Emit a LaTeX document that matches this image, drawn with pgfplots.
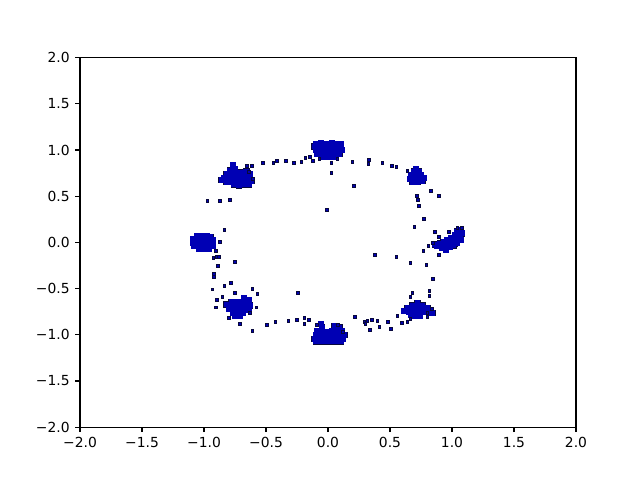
\documentclass[border=0pt]{standalone}
\usepackage{pgfplots}
\usepackage{pgfplotstable}
\pgfplotsset{compat=1.18}
\usepackage{fontspec}
\setmainfont{DejaVu Sans}
\definecolor{dotedge}{RGB}{8,8,60}
\definecolor{dotfill}{RGB}{0,0,180}

\pgfplotstableread{
x y
-0.10 1.07
-0.06 1.08
-0.02 1.07
0.03 1.08
0.07 1.07
0.10 1.07
-0.11 1.04
-0.08 1.04
-0.05 1.04
-0.02 1.04
0.01 1.04
0.04 1.04
0.07 1.04
0.10 1.04
-0.10 1.00
-0.07 1.00
-0.04 1.00
-0.01 1.00
0.02 1.00
0.05 1.00
0.08 1.00
0.11 1.00
-0.09 0.96
-0.06 0.96
-0.03 0.96
0.00 0.96
0.03 0.96
0.06 0.96
0.09 0.96
-0.06 0.93
-0.03 0.93
0.00 0.93
0.03 0.93
0.06 0.93
-1.06 0.07
-1.02 0.07
-0.98 0.07
-0.95 0.06
-1.09 0.04
-1.05 0.04
-1.01 0.04
-0.97 0.04
-0.93 0.03
-1.09 0.00
-1.05 0.00
-1.01 0.00
-0.97 0.00
-0.93 0.00
-1.08 -0.04
-1.04 -0.04
-1.00 -0.04
-0.96 -0.04
-0.93 -0.04
-1.04 -0.07
-1.00 -0.07
-0.96 -0.07
1.07 0.14
1.04 0.12
1.08 0.10
1.02 0.08
1.06 0.07
0.99 0.05
1.03 0.04
1.07 0.03
0.96 0.03
1.00 0.01
1.04 0.00
0.93 0.01
0.97 -0.01
1.01 -0.03
0.90 -0.01
0.94 -0.03
0.98 -0.05
0.88 -0.04
0.92 -0.06
0.95 -0.08
1.05 0.05
1.02 -0.01
0.86 -0.02
-0.77 0.84
-0.75 0.80
-0.79 0.78
-0.82 0.74
-0.78 0.74
-0.74 0.75
-0.70 0.76
-0.66 0.77
-0.63 0.74
-0.84 0.70
-0.80 0.70
-0.76 0.70
-0.72 0.70
-0.68 0.71
-0.64 0.70
-0.82 0.66
-0.78 0.66
-0.74 0.66
-0.70 0.66
-0.66 0.66
-0.62 0.67
-0.76 0.63
-0.72 0.62
-0.68 0.63
-0.64 0.63
-0.86 0.68
0.71 0.80
0.69 0.77
0.73 0.77
0.67 0.73
0.71 0.73
0.75 0.73
0.66 0.69
0.70 0.69
0.74 0.69
0.77 0.70
0.68 0.66
0.72 0.66
0.76 0.67
-0.68 -0.60
-0.64 -0.62
-0.78 -0.64
-0.74 -0.64
-0.70 -0.64
-0.66 -0.65
-0.82 -0.67
-0.78 -0.68
-0.74 -0.68
-0.70 -0.68
-0.66 -0.69
-0.63 -0.68
-0.80 -0.72
-0.76 -0.72
-0.72 -0.72
-0.68 -0.72
-0.64 -0.73
-0.77 -0.76
-0.73 -0.76
-0.69 -0.76
-0.75 -0.79
-0.71 -0.79
-0.06 -0.88
-0.05 -0.92
0.05 -0.90
0.09 -0.92
-0.09 -0.96
-0.05 -0.96
-0.01 -0.97
0.03 -0.96
0.07 -0.96
0.11 -0.96
-0.10 -1.00
-0.06 -1.00
-0.02 -1.00
0.02 -1.00
0.06 -1.00
0.10 -1.00
0.13 -1.00
-0.11 -1.04
-0.07 -1.04
-0.03 -1.04
0.01 -1.04
0.05 -1.04
0.09 -1.04
0.12 -1.04
-0.10 -1.07
-0.06 -1.07
-0.02 -1.07
0.02 -1.07
0.06 -1.07
0.10 -1.07
0.72 -0.65
0.68 -0.68
0.72 -0.68
0.76 -0.68
0.64 -0.71
0.68 -0.72
0.72 -0.72
0.76 -0.72
0.80 -0.71
0.61 -0.74
0.65 -0.75
0.69 -0.76
0.73 -0.76
0.77 -0.75
0.81 -0.75
0.84 -0.76
0.70 -0.79
0.74 -0.79
0.67 -0.78
}\clusters

\pgfplotstableread{
x y
-0.651 0.832
-0.615 0.832
-0.635 0.764
-0.607 0.689
-0.522 0.862
-0.441 0.862
-0.414 0.883
-0.339 0.883
-0.274 0.862
-0.215 0.872
-0.183 0.916
-0.145 0.926
-0.123 0.883
-0.070 0.905
0.027 0.862
0.075 0.905
0.027 0.754
0.196 0.872
0.333 0.894
0.325 0.851
0.438 0.862
0.514 0.829
0.551 0.818
0.640 0.775
0.212 0.613
-0.006 0.354
0.720 0.505
0.728 0.459
0.736 0.397
0.774 0.256
0.833 0.559
0.890 0.505
0.696 0.170
0.865 0.116
0.890 0.062
0.978 0.116
1.043 0.159
1.083 0.159
0.849 -0.003
0.809 -0.040
0.769 -0.090
0.890 -0.133
0.551 -0.155
0.664 -0.219
0.793 -0.241
0.849 -0.392
0.817 -0.522
0.817 -0.576
0.680 -0.544
0.664 -0.587
0.559 -0.792
0.801 -0.803
0.379 -0.130
-0.973 0.451
-0.869 0.451
-0.788 0.462
-0.836 0.137
-0.869 0.008
-0.901 -0.094
-0.925 -0.165
-0.893 -0.155
-0.877 -0.155
-0.748 -0.209
-0.885 -0.252
-0.917 -0.343
-0.917 -0.371
-0.780 -0.436
-0.836 -0.468
-0.933 -0.508
-0.748 -0.544
-0.610 -0.501
-0.570 -0.555
-0.852 -0.587
-0.893 -0.619
-0.901 -0.703
-0.578 -0.703
-0.627 -0.760
-0.796 -0.814
-0.240 -0.544
-0.610 -0.955
-0.490 -0.890
-0.425 -0.857
-0.320 -0.846
-0.248 -0.836
-0.191 -0.814
-0.151 -0.836
-0.191 -0.879
-0.091 -0.890
0.083 -0.890
0.123 -0.965
0.220 -0.803
0.293 -0.857
0.317 -0.846
0.301 -0.879
0.357 -0.836
0.398 -0.846
0.341 -0.944
0.414 -0.911
0.486 -0.857
0.510 -0.933
0.599 -0.868
0.640 -0.857
0.664 -0.825
0.841 -0.717
0.801 -0.760
-0.710 -0.879
}\isolated

\begin{document}
\begin{tikzpicture}
\fontsize{10.4}{12.5}\selectfont
\begin{axis}[
  scale only axis,
  width=372pt, height=277.2pt,
  xmin=-2, xmax=2, ymin=-2, ymax=2,
  axis line style={line width=0.83pt},
  tick align=outside, tick pos=left,
  major tick length=3.6pt,
  every tick/.style={line width=0.83pt, black},
  xtick={-2,-1.5,-1,-0.5,0,0.5,1,1.5,2},
  ytick={-2,-1.5,-1,-0.5,0,0.5,1,1.5,2},
  xticklabels={−2.0,−1.5,−1.0,−0.5,0.0,0.5,1.0,1.5,2.0},
  yticklabels={−2.0,−1.5,−1.0,−0.5,0.0,0.5,1.0,1.5,2.0},
  ticklabel style={font=\fontsize{10.4}{12.5}\selectfont},
  xticklabel style={yshift=-0.5pt},
  yticklabel style={xshift=-0.5pt},
]
\coordinate (sw) at (rel axis cs:0,0);
\coordinate (ne) at (rel axis cs:1,1);
\addplot[only marks, mark=square*, mark size=2.0pt, mark options={draw=dotedge, fill=dotedge, line width=0.4pt}] table {\clusters};
\addplot[only marks, mark=square*, mark size=1.8pt, mark options={draw=dotfill, fill=dotfill, line width=0.4pt}] table {\clusters};
\addplot[only marks, mark=square*, mark size=1.1pt, mark options={draw=dotedge, fill=dotfill, line width=0.5pt}] table {\isolated};
\end{axis}
\pgfresetboundingbox
\path ([shift={(-60pt,-39.6pt)}]sw) rectangle ([shift={(48pt,43.2pt)}]ne);
\end{tikzpicture}
\end{document}
